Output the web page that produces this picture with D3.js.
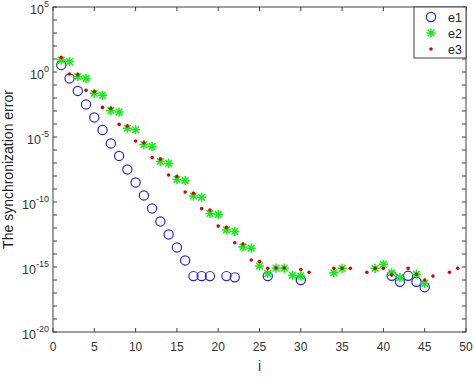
<!DOCTYPE html>
<html>
<head>
<meta charset="utf-8">
<script src="https://cdn.jsdelivr.net/npm/d3@7/dist/d3.min.js"></script>
<style>
  html, body { margin: 0; padding: 0; background: #fff; }
  svg { display: block; font-family: "Liberation Sans", Arial, sans-serif; }
</style>
</head>
<body>
<svg id="chart" width="474" height="386"></svg>
<script>
// ---- data ----
const e1I = [1,2,3,4,5,6,7,8,9,10,11,12,13,14,15,16,17,18,19,21,22,26,30,41,42,43,44,45];
const e1V = [3.5e0,3.2e-1,3.5e-2,3.2e-3,3.2e-4,3.5e-5,3.2e-6,3.5e-7,3.2e-8,3.2e-9,3.2e-10,3.2e-11,3.2e-12,3.2e-13,3.2e-14,3.2e-15,
             2.0e-16,2.0e-16,2.0e-16,2.0e-16,1.6e-16,2.0e-16,1.0e-16,2.1e-16,7.4e-17,2.1e-16,7.4e-17,2.8e-17];

const e2I = [1,2,3,4,5,6,7,8,9,10,11,12,13,14,15,16,17,18,19,20,21,22,23,24,25,26,27,28,29,30,34,35,39,40,41,42,44,45];
const e2V = [8.3e0,6.3e0,4.4e-1,3.2e-1,2.3e-2,1.6e-2,1.1e-3,8.3e-4,4.7e-5,3.6e-5,2.6e-6,1.9e-6,1.3e-7,9.3e-8,5.5e-9,4.4e-9,
             2.9e-10,2.3e-10,1.3e-11,1.1e-11,7.1e-13,5.5e-13,3.5e-14,2.8e-14,1.2e-15,3.2e-16,8.3e-16,8.3e-16,2.3e-16,2.0e-16,
             3.6e-16,7.9e-16,7.9e-16,1.6e-15,3.6e-16,1.5e-16,2.8e-16,5.5e-17];

const e3I = [1,2,3,4,5,6,7,8,9,10,11,12,13,14,15,16,17,18,19,20,21,22,23,24,25,26,27,28,30,31,34,35,36,38,39,40,41,43,44,45,46,48,49];
const e3V = [1.3e1,7.1e-1,6.3e-1,3.9e-2,3.1e-2,1.9e-3,1.6e-3,9.3e-5,7.1e-5,4.9e-6,3.6e-6,2.6e-7,2.0e-7,1.2e-8,9.3e-9,5.9e-10,
             4.7e-10,3.1e-11,2.4e-11,1.4e-12,1.1e-12,7.4e-14,5.9e-14,3.5e-15,2.6e-15,7.9e-16,8.3e-16,8.3e-16,6.3e-16,3.9e-16,
             7.9e-16,7.9e-16,7.9e-16,3.9e-16,7.9e-16,7.9e-16,2.5e-16,7.9e-16,2.8e-16,1.0e-16,2.0e-16,3.9e-16,7.9e-16];

const xTicks = [0,5,10,15,20,25,30,35,40,45,50];
const yLabelExps = [5,0,-5,-10,-15,-20];
const seriesNames = ["e1","e2","e3"];
const xTitle = "i";
const yTitle = "The synchronization error";

// ---- layout ----
const svg = d3.select("#chart");
const m = {left: 53, top: 7, right: 8, bottom: 54};
const W = 474, H = 386;
const iw = W - m.left - m.right, ih = H - m.top - m.bottom;
const axisColor = "#404040";

const x = d3.scaleLinear().domain([0, 50]).range([m.left, m.left + iw]);
const y = d3.scaleLog().domain([1e-20, 1e5]).range([m.top + ih, m.top]);

const g = svg.append("g");

// box
g.append("rect").attr("x", m.left).attr("y", m.top).attr("width", iw).attr("height", ih)
  .attr("fill", "none").attr("stroke", axisColor).attr("stroke-width", 1);

// x ticks (bottom and top, inward)
const tl = 4;
xTicks.forEach(t => {
  const px = x(t);
  g.append("line").attr("x1", px).attr("x2", px).attr("y1", m.top + ih).attr("y2", m.top + ih - tl)
    .attr("stroke", axisColor);
  g.append("line").attr("x1", px).attr("x2", px).attr("y1", m.top).attr("y2", m.top + tl)
    .attr("stroke", axisColor);
  g.append("text").attr("x", px).attr("y", m.top + ih + 19).attr("text-anchor", "middle")
    .attr("font-size", 12).attr("fill", "#333").text(t);
});

// y ticks every decade
d3.range(-20, 6).forEach(e => {
  const py = y(Math.pow(10, e));
  g.append("line").attr("x1", m.left).attr("x2", m.left + tl).attr("y1", py).attr("y2", py).attr("stroke", axisColor);
  g.append("line").attr("x1", m.left + iw).attr("x2", m.left + iw - tl).attr("y1", py).attr("y2", py).attr("stroke", axisColor);
});
yLabelExps.forEach(e => {
  const py = y(Math.pow(10, e));
  const t = g.append("text").attr("x", 49).attr("y", py + 7).attr("text-anchor", "end")
    .attr("font-size", 12.5).attr("fill", "#333");
  t.append("tspan").text("10");
  t.append("tspan").attr("dy", -7).attr("font-size", 9).text(e);
});

// axis titles
g.append("text").attr("x", m.left + iw / 2).attr("y", 371).attr("text-anchor", "middle")
  .attr("font-size", 14).attr("fill", "#333").text(xTitle);
g.append("text").attr("transform", `translate(13,${m.top + ih / 2}) rotate(-90)`)
  .attr("text-anchor", "middle").attr("font-size", 14).attr("fill", "#222").text(yTitle);

// markers
const starPath = (s) => `M${-s},0L${s},0M0,${-s}L0,${s}M${-s*0.72},${-s*0.72}L${s*0.72},${s*0.72}M${-s*0.72},${s*0.72}L${s*0.72},${-s*0.72}`;
function drawCircle(sel) { sel.append("circle").attr("r", 4.6).attr("fill", "none").attr("stroke", "#2020f0").attr("stroke-width", 1.2); }
function drawStar(sel) { sel.append("path").attr("d", starPath(4.6)).attr("fill", "none").attr("stroke", "#11ee11").attr("stroke-width", 1.5); }
function drawDot(sel) { sel.append("circle").attr("r", 1.8).attr("fill", "#e00000"); }

const e1 = e1I.map((d, k) => ({i: d, v: e1V[k]}));
const e2 = e2I.map((d, k) => ({i: d, v: e2V[k]}));
const e3 = e3I.map((d, k) => ({i: d, v: e3V[k]}));

const plot = svg.append("g");
plot.selectAll("g.e1").data(e1).join("g").attr("class", "e1")
  .attr("transform", d => `translate(${x(d.i)},${y(d.v)})`).call(drawCircle);
plot.selectAll("g.e2").data(e2).join("g").attr("class", "e2")
  .attr("transform", d => `translate(${x(d.i)},${y(d.v)})`).call(drawStar);
plot.selectAll("g.e3").data(e3).join("g").attr("class", "e3")
  .attr("transform", d => `translate(${x(d.i)},${y(d.v)})`).call(drawDot);

// legend
const lg = svg.append("g");
lg.append("rect").attr("x", 414).attr("y", m.top).attr("width", m.left + iw - 414).attr("height", 51)
  .attr("fill", "#fff").attr("stroke", axisColor);
const rowsY = [17, 33, 49];
const drawers = [drawCircle, drawStar, drawDot];
seriesNames.forEach((n, k) => {
  lg.append("g").attr("transform", `translate(431,${rowsY[k]})`).call(drawers[k]);
  lg.append("text").attr("x", 448).attr("y", rowsY[k] + 4.5).attr("font-size", 12.5).attr("fill", "#222").text(n);
});
</script>
</body>
</html>
